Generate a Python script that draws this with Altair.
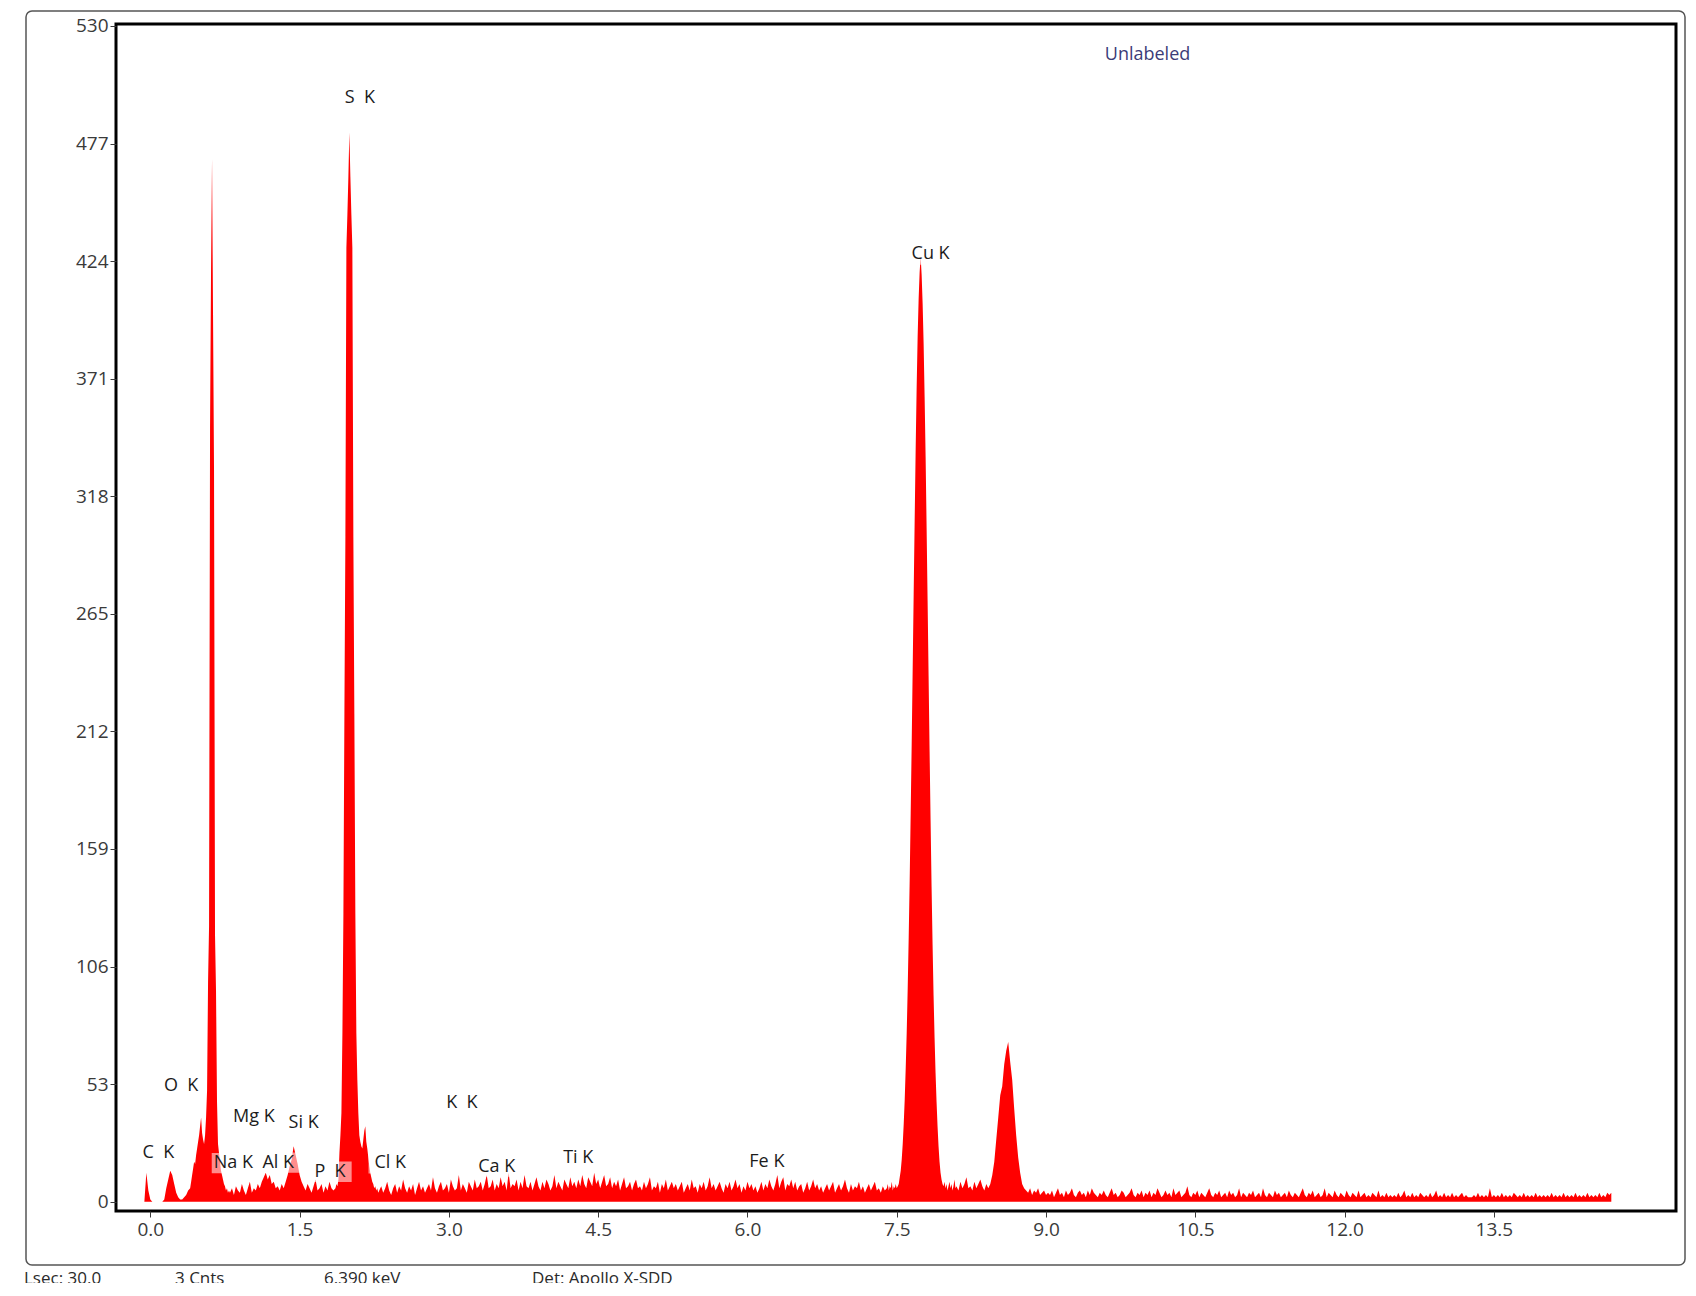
import altair as alt
import pandas as pd

# ---------------- spectrum data (counts) ----------------
# each segment: start energy (keV), channel step (keV), counts
seg_a_start, seg_a_step = -0.06, 0.02
seg_a_counts = [0, 13, 5, 1, 0, 0, 0, 0, 0, 0, 1, 6, 10, 14, 12, 8, 4, 2, 1, 1, 2, 3, 5]

seg_b_start, seg_b_step = 0.40, 0.01
seg_b_counts = [6, 9, 12, 15, 18, 17, 21, 24, 27, 30,
                34, 38, 31, 28, 26, 30, 38, 50, 99, 124,
                349, 420, 470, 400, 330, 120, 95, 45, 26, 22,
                18, 14, 12, 10, 8, 7, 5, 6, 4, 5]

seg_c_start, seg_c_step = 0.80, 0.02
seg_c_counts = [4, 6, 3, 7, 5, 4, 8, 5, 3, 6, 9, 4, 6, 5, 8, 6, 9, 11, 13, 10,
                12, 8, 9, 6, 7, 5, 8, 6, 9, 12, 16, 19, 25, 21, 17, 12, 9, 7, 5, 8,
                6, 4, 7, 10, 5, 6, 8, 4, 7, 5, 9, 6, 5]

seg_d_start, seg_d_step = 1.86, 0.01
seg_d_counts = [6, 8, 7, 10, 22, 30, 40, 76, 130, 220,
                300, 430, 445, 462, 482, 462, 445, 430, 300, 220,
                130, 76, 55, 40, 30, 27, 25, 24, 28, 32,
                34, 27, 24, 20, 16, 13, 11, 9, 8, 6,
                7, 5, 6, 4]

seg_e_start, seg_e_step = 2.30, 0.02
seg_e_counts = [
    5, 7, 4, 6, 9, 5, 3, 6, 8, 4, 7, 5, 10, 6, 4, 7, 5, 8, 3, 6, 9, 5, 7, 4, 6,
    8, 5, 11, 6, 4, 7, 9, 5, 6, 8, 4, 10, 7, 5, 6, 12, 5, 8, 6, 4, 9, 7, 5, 10, 6,
    7, 9, 5, 8, 12, 6, 7, 10, 5, 8, 6, 11, 7, 9, 5, 13, 6, 8, 7, 10, 5, 9, 6, 12, 7,
    6, 9, 5, 8, 11, 7, 5, 9, 6, 10, 8, 5, 7, 12, 6, 9, 7, 5, 10, 8, 6, 11, 7, 9, 6,
    10, 7, 12, 8, 6, 11, 9, 7, 13, 8, 10, 6, 9, 12, 7, 8, 11, 6, 9, 7, 10, 5, 8, 11, 6,
    7, 9, 5, 8, 10, 6, 7, 5, 9, 6, 8, 11, 5, 7, 6, 9, 4, 8, 6, 10, 5, 7, 9, 6, 8,
    5, 7, 9, 4, 6, 8, 5, 10, 6, 7, 4, 8, 6, 9, 5, 7, 11, 6, 8, 5, 7, 9, 6, 4, 8,
    6, 9, 5, 7, 10, 6, 8, 4, 7, 5, 9, 6, 8, 5, 7, 4, 6, 9, 5, 8, 6, 10, 7, 5, 8,
    12, 6, 9, 11, 5, 8, 7, 10, 6, 9, 5, 7, 8, 4, 6, 9, 5, 7, 10, 6, 8, 5, 7, 4, 6,
    8, 5, 7, 9, 4, 6, 8, 5, 7, 10, 6, 4, 8, 5, 7, 6, 9, 5, 7, 4, 6, 8, 5, 7, 9,
    5, 6, 4, 7, 5]

seg_f_start, seg_f_step = 7.40, 0.01
seg_f_counts = [6, 8, 5, 7, 6, 9, 5, 7, 6, 8,
                6, 7, 8, 11, 14, 19, 26, 35, 46, 60,
                76, 96, 119, 145, 175, 206, 240, 274, 307, 339,
                367, 390, 407, 419, 426, 418, 405, 387, 363, 336,
                304, 271, 237, 203, 172, 142, 116, 93, 74, 58,
                45, 34, 25, 18, 13, 10, 8, 7, 9, 6,
                8, 5, 7, 9, 6, 8, 5, 7, 10, 6]

seg_g_start, seg_g_step = 8.10, 0.02
seg_g_counts = [
    7, 5, 9, 6, 8, 11, 6, 7, 5, 9, 6, 8, 10, 7, 5, 8, 6,
    8, 12, 18, 28, 38, 48, 52, 62, 68, 72, 63, 55, 42, 30, 20, 13, 8, 6,
    5, 4, 6, 3, 5, 4, 6, 3, 4, 5, 3,
    4, 3, 5, 2, 4, 6, 3, 4, 2, 5, 3, 4, 6, 3, 2, 4, 5, 3, 4, 2, 5, 3, 6, 4, 3,
    2, 4, 3, 5, 3, 2, 4, 6, 3, 4, 2, 3, 5, 4, 2, 3, 4, 6, 3, 2, 4, 3, 5, 2, 4,
    3, 5, 2, 4, 3, 6, 4, 2, 3, 5, 3, 4, 2, 6, 3, 4, 5, 2, 3, 4, 7, 3, 2, 4, 3,
    5, 2, 4, 3, 2, 4, 6, 3, 2, 4, 3, 5, 2, 3, 4, 2, 5, 3, 4, 2, 3, 6, 2, 4, 3,
    2, 4, 3, 5, 2, 3, 4, 2, 6, 3, 2, 4, 3, 2, 5, 3, 4, 2, 3, 4, 2, 5, 3, 2, 4,
    3, 2, 4, 6, 3, 2, 4, 3, 5, 2, 3, 4, 2, 3, 6, 2, 4, 3, 2, 5, 3, 2, 4, 3, 2,
    5, 3, 2, 4, 3, 2, 5, 2, 3, 4, 2, 3, 2, 4, 3, 2, 5, 2, 3, 2, 4, 2, 3, 2, 3,
    2, 4, 2, 3, 5, 2, 3, 2, 4, 2, 3, 2, 4, 3, 2, 3, 2, 4, 2, 3, 5, 2, 3, 2, 4,
    2, 3, 2, 4, 2, 3, 2, 3, 4, 2, 3, 2, 2, 2, 3, 2, 4, 2, 3, 2, 3, 2, 6, 2, 3,
    2, 3, 2, 4, 2, 3, 2, 3, 2, 4, 3, 2, 3, 2, 4, 2, 3, 2, 3, 2, 4, 2, 3, 2, 3,
    2, 3, 2, 4, 2, 3, 2, 3, 2, 4, 2, 3, 2, 3, 2, 4, 2, 3, 2, 3, 2, 4, 2, 3, 2,
    3, 2, 4, 2, 3, 2, 4, 3, 4]

# ---------------- peak labels ----------------
NB = "\u00a0"
peak_labels = ["C" + NB * 2 + "K", "O" + NB * 2 + "K", "Na K", "Mg K", "Al K", "Si K",
               "P" + NB * 2 + "K", "S" + NB * 2 + "K", "Cl K", "K" + NB * 2 + "K",
               "Ca K", "Ti K", "Fe K", "Cu K"]
label_kev = [0.08, 0.31, 0.835, 1.04, 1.285, 1.54, 1.805, 2.105, 2.41, 3.13, 3.48, 4.30, 6.195, 7.84]
label_counts = [22, 52, 17.4, 38, 17.6, 35.5, 13.5, 497.5, 17.3, 44.6, 15.8, 19.6, 18, 427]

x_ticks = [0.0, 1.5, 3.0, 4.5, 6.0, 7.5, 9.0, 10.5, 12.0, 13.5]
y_ticks = [0, 53, 106, 159, 212, 265, 318, 371, 424, 477, 530]

corner_label = "Unlabeled"
corner_kev, corner_counts = 10.02, 517
footer_texts = ["Lsec: 30.0", "3 Cnts", "6.390 keV", "Det: Apollo X-SDD"]

# ---------------- build tables ----------------
segments = [
    (seg_a_start, seg_a_step, seg_a_counts),
    (seg_b_start, seg_b_step, seg_b_counts),
    (seg_c_start, seg_c_step, seg_c_counts),
    (seg_d_start, seg_d_step, seg_d_counts),
    (seg_e_start, seg_e_step, seg_e_counts),
    (seg_f_start, seg_f_step, seg_f_counts),
    (seg_g_start, seg_g_step, seg_g_counts),
]
rows = []
for start, step, cnts in segments:
    for i, c in enumerate(cnts):
        rows.append({"kev": round(start + i * step, 3), "counts": c})
spectrum = pd.DataFrame(rows)

labels = pd.DataFrame({"label": peak_labels, "kev": label_kev, "cnt": label_counts})

W, H = 1560, 1187
FONT = "Open Sans"

x_scale = alt.Scale(domain=[-0.345, 15.33], nice=False, zero=False)
y_scale = alt.Scale(domain=[-4.2, 530.9], nice=False, zero=False)

area = alt.Chart(spectrum).mark_area(color="#ff0000", interpolate="linear").encode(
    x=alt.X("kev:Q", scale=x_scale,
            axis=alt.Axis(values=x_ticks, format=".1f", tickSize=6, labelPadding=3,
                          labelOverlap=False, title=None)),
    y=alt.Y("counts:Q", scale=y_scale,
            axis=alt.Axis(values=y_ticks, tickSize=6, labelPadding=2,
                          labelOverlap=False, title=None)),
    y2=alt.datum(0),
)

boxes = alt.Chart(labels).transform_calculate(
    x1="datum.kev - (length(datum.label) * 0.047 + 0.03)",
    x2="datum.kev + (length(datum.label) * 0.047 + 0.03)",
    y1="datum.cnt - 4.6",
    y2="datum.cnt + 4.6",
).mark_rect(color="white", opacity=0.55).encode(
    x=alt.X("x1:Q", scale=x_scale), x2="x2:Q",
    y=alt.Y("y1:Q", scale=y_scale), y2="y2:Q",
)

texts = alt.Chart(labels).mark_text(
    font=FONT, fontSize=18, color="#1c1c1c", align="center", baseline="middle"
).encode(
    x=alt.X("kev:Q", scale=x_scale),
    y=alt.Y("cnt:Q", scale=y_scale),
    text="label:N",
)

corner = alt.Chart(pd.DataFrame({"t": [corner_label], "kev": [corner_kev], "cnt": [corner_counts]})).mark_text(
    font=FONT, fontSize=18, color="#3c3c78", align="center", baseline="middle"
).encode(
    x=alt.X("kev:Q", scale=x_scale),
    y=alt.Y("cnt:Q", scale=y_scale),
    text="t:N",
)

one = pd.DataFrame({"a": [1]})
outer = alt.Chart(one).mark_rect(
    filled=False, stroke="#555555", strokeWidth=1.5, cornerRadius=6
).encode(
    x=alt.value(-90), x2=alt.value(1569), y=alt.value(-13), y2=alt.value(1241)
)

footer_x = [-92, 59, 208, 416]
footers = []
for txt, fx in zip(footer_texts, footer_x):
    footers.append(
        alt.Chart(one).mark_text(
            font=FONT, fontSize=17, color="#2a2a2a", align="left", baseline="top"
        ).encode(x=alt.value(fx), y=alt.value(1247), text=alt.value(txt))
    )

chart = alt.layer(area, boxes, texts, corner, outer, *footers).properties(
    width=W, height=H,
    padding={"left": 108, "top": 16, "right": 11, "bottom": 72},
    autosize=alt.AutoSizeParams(type="none"),
    background="white",
).configure_view(
    stroke="black", strokeWidth=3
).configure_axis(
    labelFont=FONT, labelFontSize=19, labelColor="#3a3a3a",
    tickColor="#3a3a3a", tickWidth=1, grid=False, domain=False,
)

chart.save("out.html", embed_options={"renderer": "svg", "actions": False})
